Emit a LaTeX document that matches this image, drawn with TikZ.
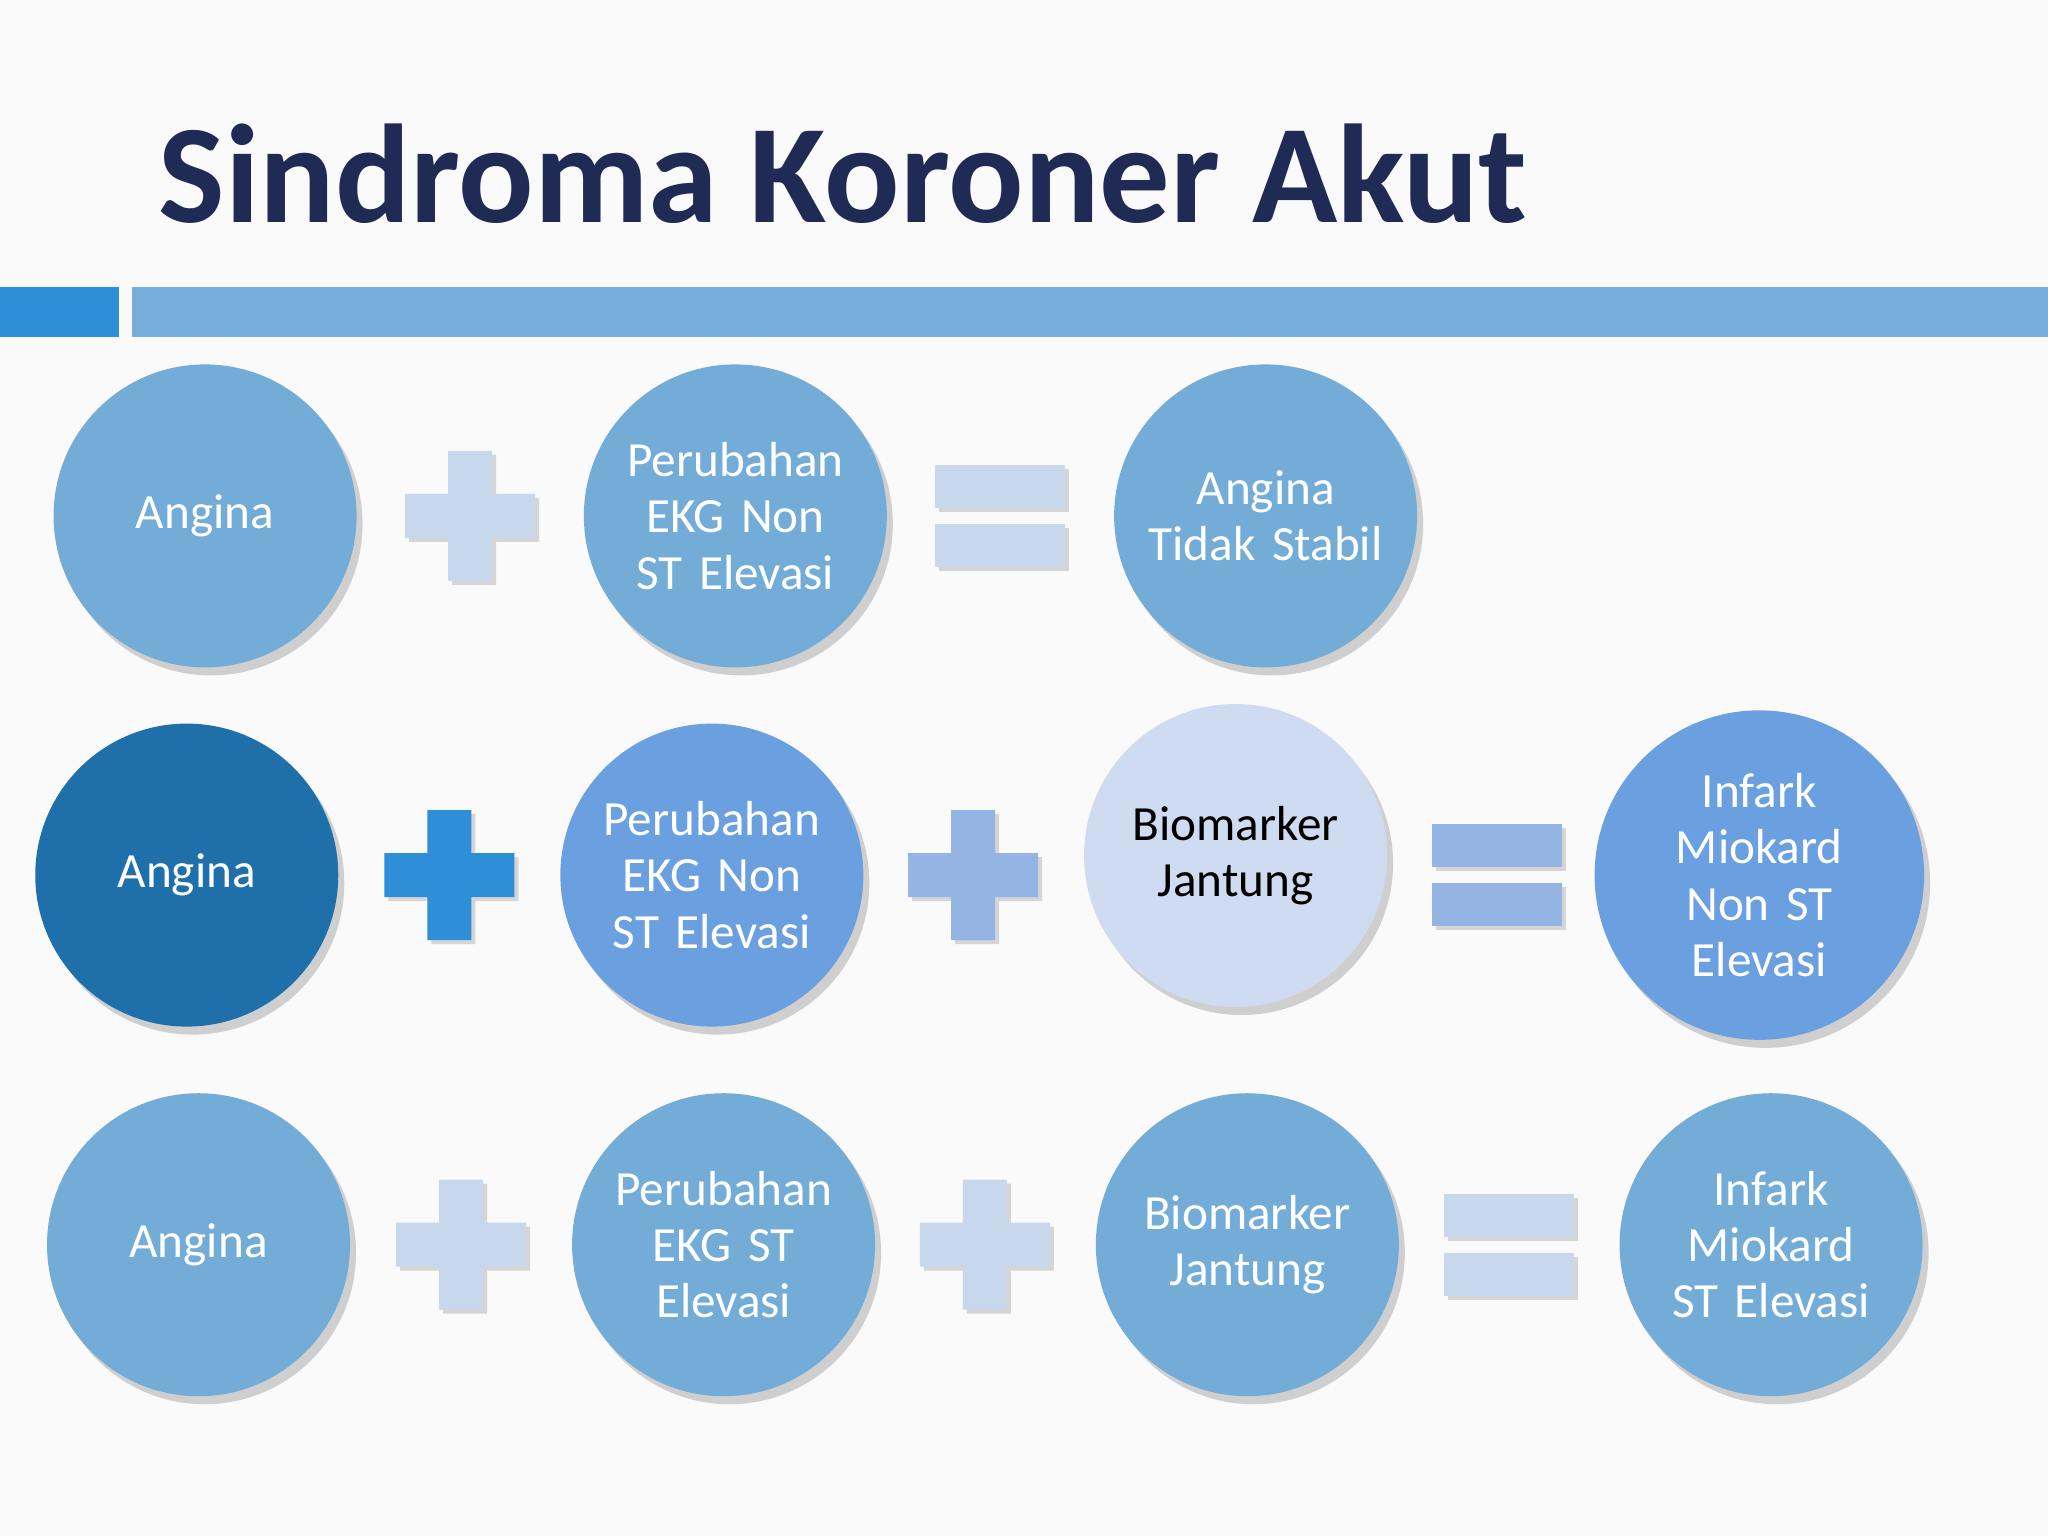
\documentclass[tikz,border=0pt]{standalone}
\usepackage{fontspec}
\setmainfont{Carlito}
\usetikzlibrary{shadows,positioning,calc}
\definecolor{navy}{HTML}{1F2A55}
\definecolor{barblue}{HTML}{77ADD9}
\definecolor{accent}{HTML}{2E8ED8}
\definecolor{midblue}{HTML}{74ACD8}
\definecolor{darkblue}{HTML}{1F6FAA}
\definecolor{brightblue}{HTML}{6A9FE0}
\definecolor{paleblue}{HTML}{CFDBF0}
\definecolor{softblue}{HTML}{94B4E4}
\definecolor{signblue}{HTML}{C7D8EC}

\newcommand{\plussign}[3]{% position, colour, name
  \fill[#2, drop shadow={shadow xshift=0.04cm, shadow yshift=-0.04cm, opacity=0.3}] ($#1+(-0.22cm,-0.65cm)$) -- ++(0.44cm,0) -- ++(0,0.43cm) -- ++(0.43cm,0) -- ++(0,0.44cm) -- ++(-0.43cm,0) -- ++(0,0.43cm) -- ++(-0.44cm,0) -- ++(0,-0.43cm) -- ++(-0.43cm,0) -- ++(0,-0.44cm) -- ++(0.43cm,0) -- cycle;
  \coordinate (#3) at #1;}
\newcommand{\equalsign}[3]{%
  \fill[#2, drop shadow={shadow xshift=0.04cm, shadow yshift=-0.04cm, opacity=0.3}] ($#1+(-0.65cm,0.08cm)$) rectangle ++(1.3cm,0.43cm);
  \fill[#2, drop shadow={shadow xshift=0.04cm, shadow yshift=-0.04cm, opacity=0.3}] ($#1+(-0.65cm,-0.51cm)$) rectangle ++(1.3cm,0.43cm);
  \coordinate (#3) at #1;}

\begin{document}
\begin{tikzpicture}[
x=0.01306cm, y=-0.01306cm,
bubble/.style={circle, fill=midblue, minimum size=3.03cm, inner sep=0pt, text width=2.6cm, align=center,
  text=white, font=\fontsize{14}{16}\selectfont,
  drop shadow={shadow xshift=0.06cm, shadow yshift=-0.08cm, opacity=0.35}}
]
    \fill[white!98!black] (0,0) rectangle (1568,1176);
    \node[font=\fontsize{40}{44}\selectfont\bfseries, text=navy, anchor=west] (title) at (112,133) {Sindroma Koroner Akut};
    \fill[accent] (0,220) rectangle (91,258);
    \fill[barblue] (101,220) rectangle (1568,258);

    % row one
    \node[bubble] (angA) at (157,395) {Angina};
    \node[bubble] (ekgA) at (563,395) {Perubahan EKG Non ST Elevasi};
    \node[bubble] (uap) at (969,395) {Angina Tidak Stabil};
    \plussign{(360,395)}{signblue}{plusA}
    \equalsign{(766,395)}{signblue}{eqA}

    % row two
    \node[bubble, fill=darkblue] (angB) at (143,670) {Angina};
    \node[bubble, fill=brightblue] (ekgB) at (545,670) {Perubahan EKG Non ST Elevasi};
    \node[bubble, fill=paleblue, text=black] (bioB) at (946,655) {Biomarker Jantung};
    \node[bubble, fill=brightblue] (nstemi) at (1347,670) {Infark Miokard Non ST Elevasi};
    \plussign{(344,670)}{accent}{plusB}
    \plussign{(745,670)}{softblue}{plusC}
    \equalsign{(1146,670)}{softblue}{eqB}

    % row three
    \node[bubble] (angC) at (152,953) {Angina};
    \node[bubble] (ekgC) at (554,953) {Perubahan EKG ST Elevasi};
    \node[bubble] (bioC) at (955,953) {Biomarker Jantung};
    \node[bubble] (stemi) at (1356,953) {Infark Miokard ST Elevasi};
    \plussign{(353,953)}{signblue}{plusD}
    \plussign{(754,953)}{signblue}{plusE}
    \equalsign{(1155,953)}{signblue}{eqC}
\end{tikzpicture}
\end{document}
